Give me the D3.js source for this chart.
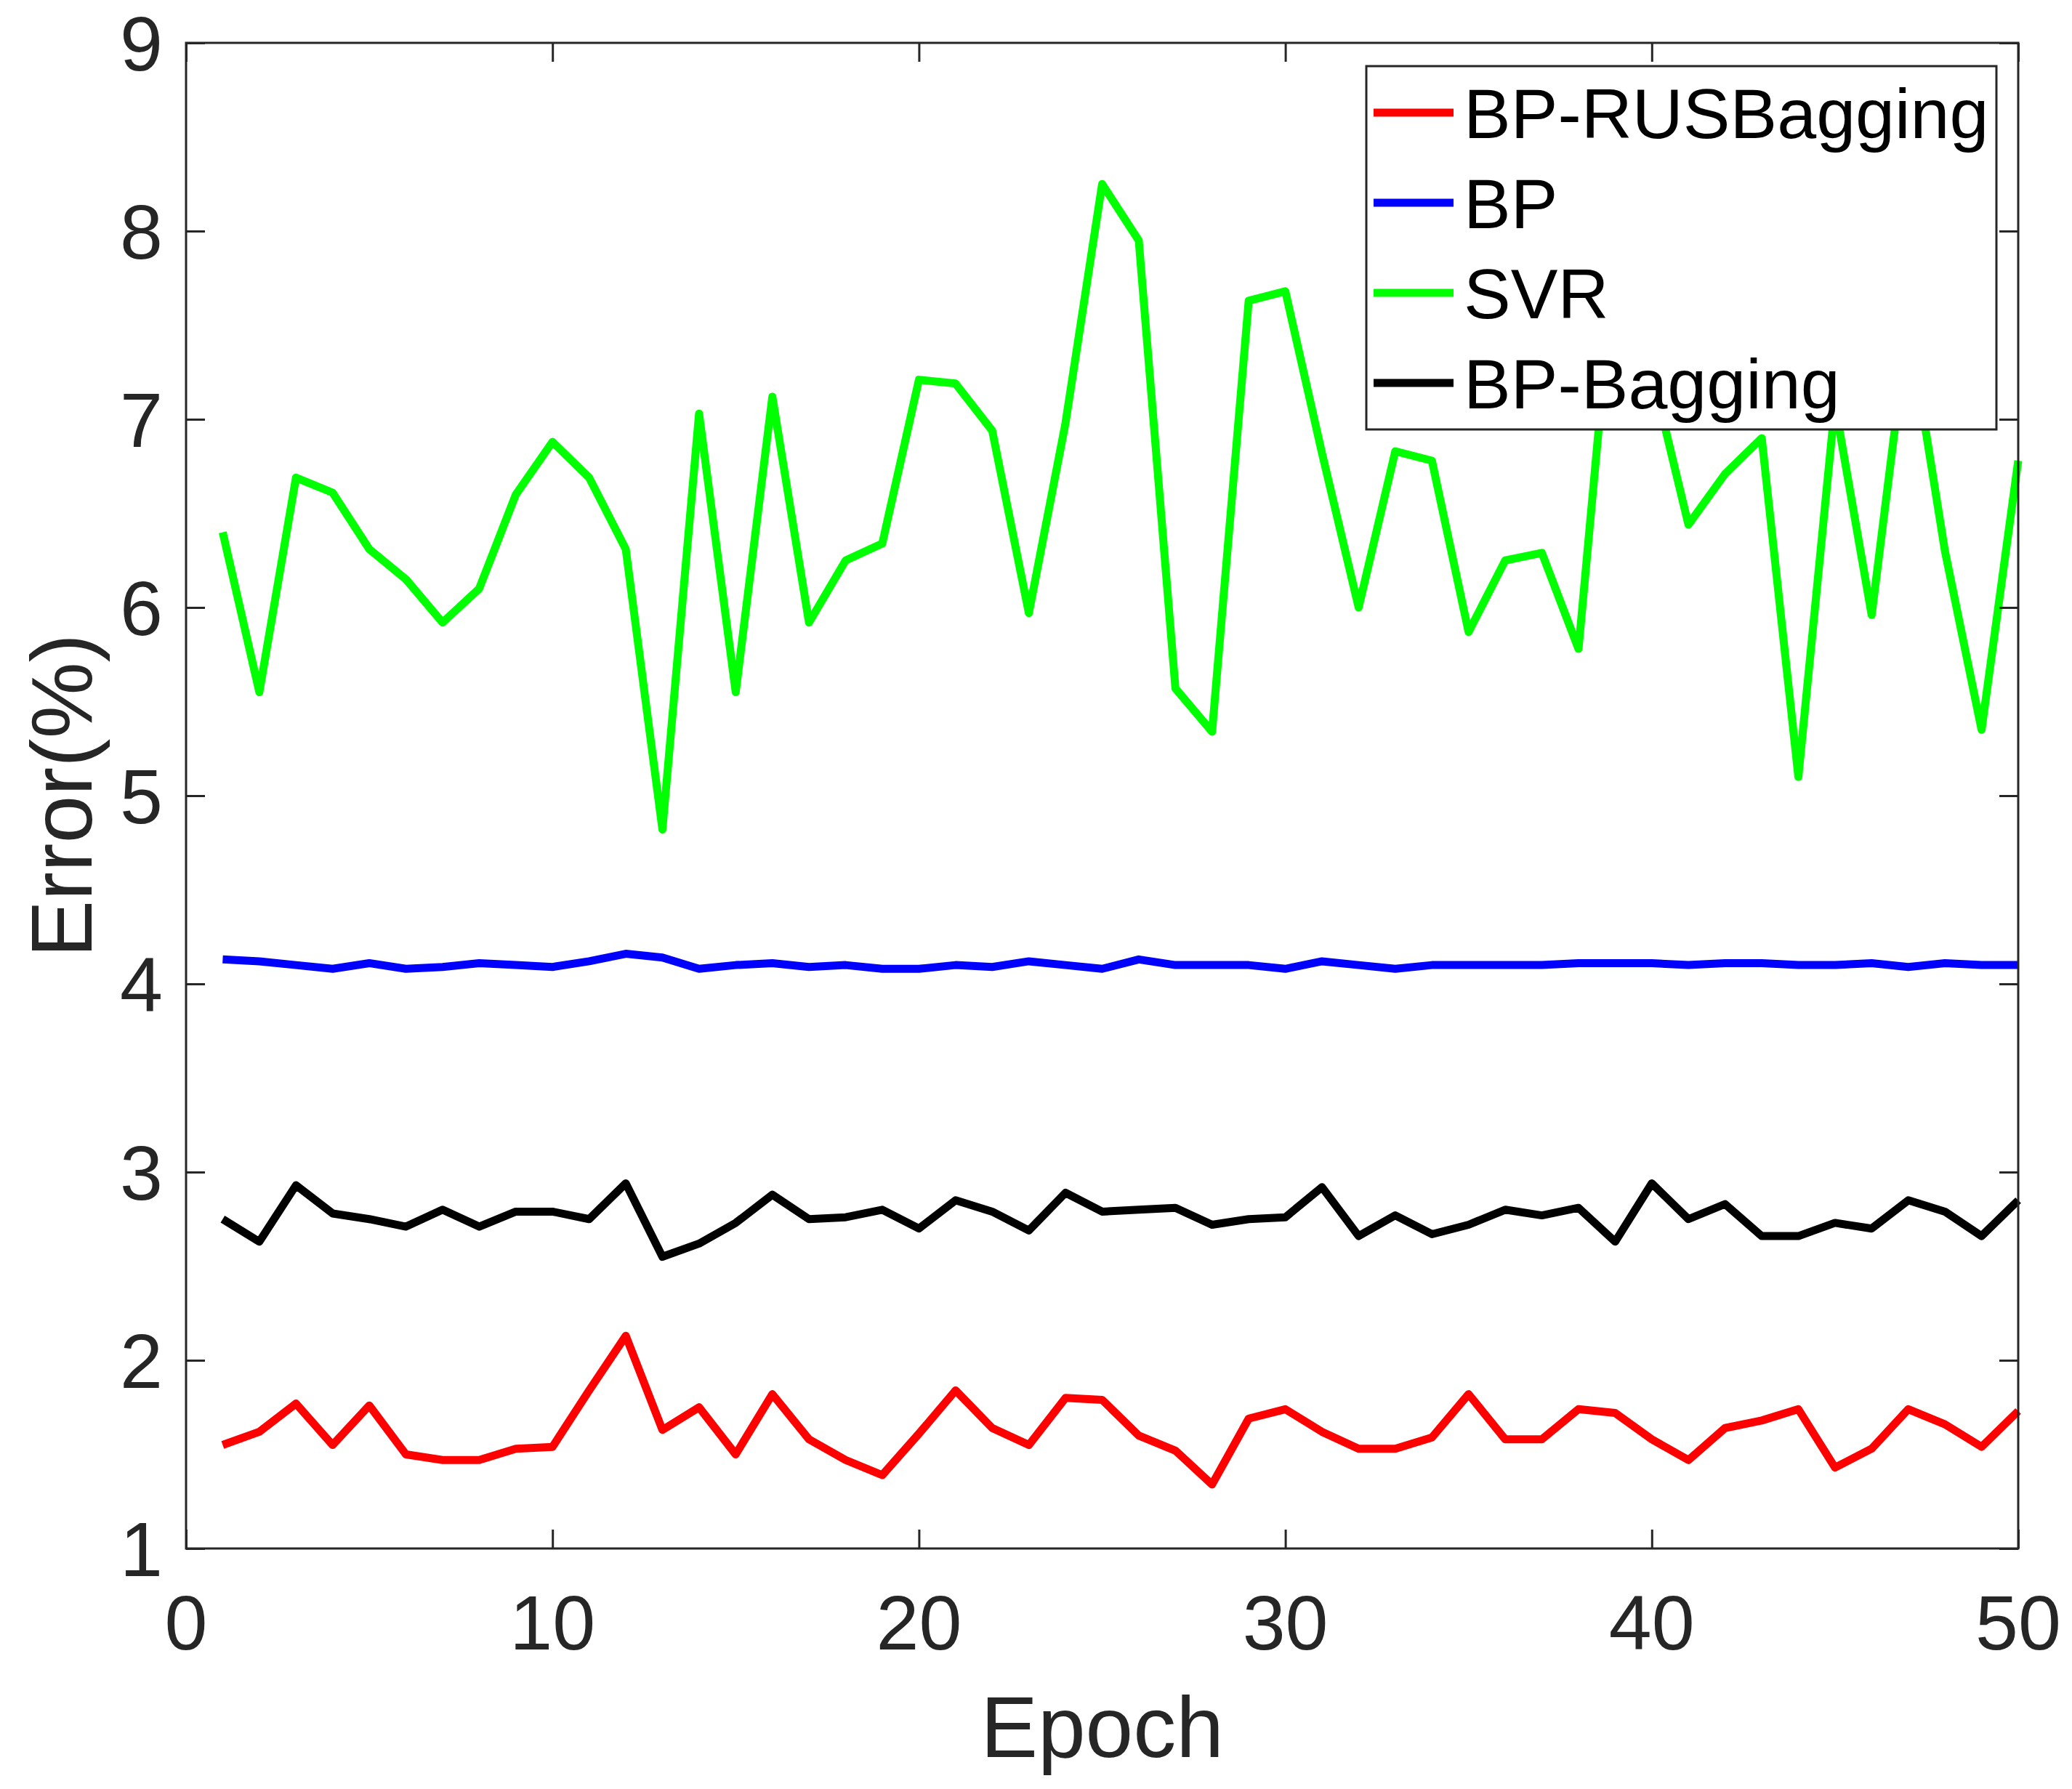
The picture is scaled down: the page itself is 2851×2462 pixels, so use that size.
<!DOCTYPE html>
<html>
<head>
<meta charset="utf-8">
<script src="https://cdn.jsdelivr.net/npm/d3@7"></script>
<style>
  body { margin: 0; background: #fff; }
  text { font-family: Arial, "Liberation Sans", Helvetica, sans-serif; }
  .axis-text { fill: #262626; }
</style>
</head>
<body>
<div id="chart"></div>
<script>
const epochs = d3.range(1, 51);

const seriesNames = ['BP-RUSBagging', 'BP', 'SVR', 'BP-Bagging'];
const seriesColors = ['#ff0000', '#0000ff', '#00ff00', '#000000'];

const bpRusBagging = [1.55, 1.62, 1.77, 1.55, 1.76, 1.50, 1.47, 1.47, 1.53, 1.54,
  1.84, 2.13, 1.63, 1.75, 1.50, 1.82, 1.58, 1.47, 1.39, 1.61,
  1.84, 1.64, 1.55, 1.80, 1.79, 1.60, 1.52, 1.34, 1.69, 1.74,
  1.62, 1.53, 1.53, 1.59, 1.82, 1.58, 1.58, 1.74, 1.72, 1.58,
  1.47, 1.64, 1.68, 1.74, 1.43, 1.53, 1.74, 1.66, 1.54, 1.73];

const bp = [4.13, 4.12, 4.10, 4.08, 4.11, 4.08, 4.09, 4.11, 4.10, 4.09,
  4.12, 4.16, 4.14, 4.08, 4.10, 4.11, 4.09, 4.10, 4.08, 4.08,
  4.10, 4.09, 4.12, 4.10, 4.08, 4.13, 4.10, 4.10, 4.10, 4.08,
  4.12, 4.10, 4.08, 4.10, 4.10, 4.10, 4.10, 4.11, 4.11, 4.11,
  4.10, 4.11, 4.11, 4.10, 4.10, 4.11, 4.09, 4.11, 4.10, 4.10];

const svr = [6.40, 5.55, 6.69, 6.61, 6.31, 6.15, 5.92, 6.10, 6.60, 6.88,
  6.69, 6.31, 4.82, 7.03, 5.55, 7.12, 5.92, 6.25, 6.34, 7.21,
  7.19, 6.94, 5.97, 6.98, 8.25, 7.95, 5.57, 5.34, 7.63, 7.68,
  6.82, 6.00, 6.83, 6.78, 5.87, 6.25, 6.29, 5.78, 7.90, 7.25,
  6.44, 6.71, 6.90, 5.10, 7.08, 5.96, 7.52, 6.30, 5.35, 6.78];

const bpBagging = [2.75, 2.63, 2.93, 2.78, 2.75, 2.71, 2.80, 2.71, 2.79, 2.79,
  2.75, 2.94, 2.55, 2.62, 2.73, 2.88, 2.75, 2.76, 2.80, 2.70,
  2.85, 2.79, 2.69, 2.89, 2.79, 2.80, 2.81, 2.72, 2.75, 2.76,
  2.92, 2.66, 2.77, 2.67, 2.72, 2.80, 2.77, 2.81, 2.63, 2.94,
  2.75, 2.83, 2.66, 2.66, 2.73, 2.70, 2.85, 2.79, 2.66, 2.85];

const xTicks = [0, 10, 20, 30, 40, 50];
const yTicks = [1, 2, 3, 4, 5, 6, 7, 8, 9];

const config = {
  'width': 2851,
  'height': 2462,
  'margins': {
    'top': 59,
    'right': 74,
    'bottom': 331,
    'left': 256
  }
}

const series = [bpRusBagging, bp, svr, bpBagging].map((values, i) => ({
  name: seriesNames[i],
  color: seriesColors[i],
  values: values.map((v, j) => ({ epoch: epochs[j], value: v }))
}));

const innerW = config.width - config.margins.left - config.margins.right;
const innerH = config.height - config.margins.top - config.margins.bottom;

const x = d3.scaleLinear().domain([0, 50]).range([0, innerW]);
const y = d3.scaleLinear().domain([1, 9]).range([innerH, 0]);

const svg = d3.select('#chart').append('svg')
  .attr('width', config.width)
  .attr('height', config.height)
  .attr('viewBox', [0, 0, config.width, config.height]);

const g = svg.append('g')
  .attr('transform', `translate(${config.margins.left}, ${config.margins.top})`);

// lines first, box and ticks drawn on top like matlab
const line = d3.line()
  .x(d => x(d.epoch))
  .y(d => y(d.value));

g.selectAll('path.series')
  .data(series)
  .join('path')
    .attr('class', 'series')
    .attr('fill', 'none')
    .attr('stroke', d => d.color)
    .attr('stroke-width', 11)
    .attr('stroke-linejoin', 'round')
    .attr('d', d => line(d.values));

const tickLen = 26;
const axisColor = '#262626';

// bottom / left axes with inward ticks
const xAxis = d3.axisBottom(x).tickValues(xTicks).tickSize(-tickLen).tickPadding(0).tickFormat('');
const yAxis = d3.axisLeft(y).tickValues(yTicks).tickSize(-tickLen).tickPadding(0).tickFormat('');
const xAxisTop = d3.axisTop(x).tickValues(xTicks).tickSize(-tickLen).tickFormat('');
const yAxisRight = d3.axisRight(y).tickValues(yTicks).tickSize(-tickLen).tickFormat('');

g.append('g').attr('transform', `translate(0, ${innerH})`).call(xAxis);
g.append('g').call(yAxis);
g.append('g').call(xAxisTop);
g.append('g').attr('transform', `translate(${innerW}, 0)`).call(yAxisRight);

g.selectAll('.domain').remove();
g.selectAll('.tick line')
  .attr('stroke', axisColor)
  .attr('stroke-width', 3);

g.append('rect')
  .attr('x', 0)
  .attr('y', 0)
  .attr('width', innerW)
  .attr('height', innerH)
  .attr('fill', 'none')
  .attr('stroke', axisColor)
  .attr('stroke-width', 3);

// tick labels
g.selectAll('text.xlab')
  .data(xTicks)
  .join('text')
    .attr('class', 'xlab axis-text')
    .attr('x', d => x(d))
    .attr('y', innerH + 139)
    .attr('text-anchor', 'middle')
    .attr('font-size', 106)
    .text(d => d);

g.selectAll('text.ylab')
  .data(yTicks)
  .join('text')
    .attr('class', 'ylab axis-text')
    .attr('x', -32)
    .attr('y', d => y(d) + 38)
    .attr('text-anchor', 'end')
    .attr('font-size', 106)
    .text(d => d);

g.append('text')
  .attr('class', 'axis-text')
  .attr('x', innerW / 2)
  .attr('y', innerH + 287)
  .attr('text-anchor', 'middle')
  .attr('font-size', 118)
  .text('Epoch');

g.append('text')
  .attr('class', 'axis-text')
  .attr('transform', `translate(${126 - config.margins.left}, ${innerH / 2}) rotate(-90)`)
  .attr('text-anchor', 'middle')
  .attr('font-size', 118)
  .text('Error(%)');

// legend
const legend = svg.append('g')
  .attr('transform', 'translate(1880, 91)');

legend.append('rect')
  .attr('width', 867)
  .attr('height', 500)
  .attr('fill', '#fff')
  .attr('stroke', axisColor)
  .attr('stroke-width', 3);

const item = legend.selectAll('g.item')
  .data(series)
  .join('g')
    .attr('class', 'item')
    .attr('transform', (d, i) => `translate(0, ${64 + i * 124})`);

item.append('line')
  .attr('x1', 10)
  .attr('x2', 120)
  .attr('stroke', d => d.color)
  .attr('stroke-width', 11);

item.append('text')
  .attr('x', 134)
  .attr('y', 35)
  .attr('font-size', 97)
  .attr('fill', '#000')
  .text(d => d.name);
</script>
</body>
</html>
